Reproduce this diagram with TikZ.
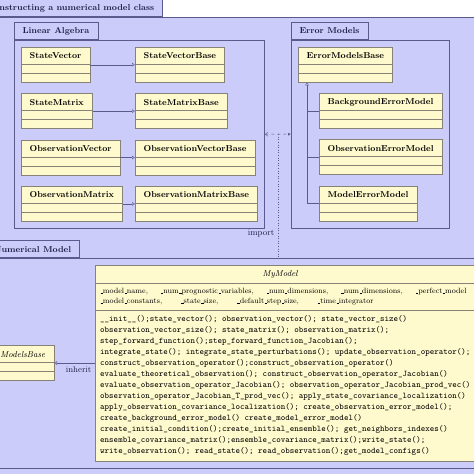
\documentclass[tikz,border=0pt]{standalone}
\usetikzlibrary{arrows.meta, positioning, shapes.multipart, fit}

\definecolor{pkgfill}{RGB}{204,204,250}
\definecolor{pkgline}{RGB}{90,90,140}
\definecolor{pkgtext}{RGB}{30,30,70}
\definecolor{classfill}{RGB}{255,250,205}
\definecolor{classline}{RGB}{135,130,120}

\newcommand{\umlsize}{\fontsize{8.6}{10.5}\selectfont}
% short roman underscore
\newcommand{\usc}{\leavevmode\kern.06em\vbox{\hrule width.3em}}

\tikzset{
  umlclass/.style={draw=classline, fill=classfill, font=\umlsize\bfseries,
    inner xsep=8.5pt, inner ysep=0pt, text height=11.5pt, text depth=23.5pt,
    path picture={
      \draw[classline] ([yshift=-17pt]path picture bounding box.north west)
        -- ([yshift=-17pt]path picture bounding box.north east);
      \draw[classline] ([yshift=-26pt]path picture bounding box.north west)
        -- ([yshift=-26pt]path picture bounding box.north east);}},
  umlsplit/.style={rectangle split, rectangle split parts=3,
    draw=classline, fill=classfill, font=\umlsize,
    inner xsep=5pt, inner ysep=3.5pt,
    rectangle split part align={left}, execute at begin node=\strut},
  pkgtab/.style={draw=pkgline, line width=0.6pt, fill=pkgfill,
    font=\umlsize\bfseries, text=pkgtext, minimum height=17pt,
    inner xsep=8.5pt},
  pkgframe/.style={draw=pkgline, line width=0.6pt, inner sep=7pt},
  inh/.style={draw=pkgline, -{Triangle[open, length=3pt, width=3.5pt]}},
}

\begin{document}
\begin{tikzpicture}[x=1pt, y=-1pt, font=\umlsize]
  \useasboundingbox (0,0) rectangle (474,474);
  \clip (0,0) rectangle (474,474);
  \fill[white] (0,0) rectangle (474,474);

  % outer package
  \draw[pkgframe, fill=pkgfill] (-20,17) rectangle (500,500);
  \node[pkgtab, anchor=south east] (outer-tab) at (163,17)
    {Constructing a numerical model class};

  % linear algebra
  \node[umlclass, anchor=north west] (sv) at (21,47) {StateVector};
  \node[umlclass, anchor=north west] (svb) at (135,47) {StateVectorBase};
  \node[umlclass, below=11pt of sv.south west, anchor=north west] (sm)
    {StateMatrix};
  \node[umlclass, below=11pt of svb.south west, anchor=north west] (smb)
    {StateMatrixBase};
  \node[umlclass, below=11pt of sm.south west, anchor=north west] (ov)
    {ObservationVector};
  \node[umlclass, below=11pt of smb.south west, anchor=north west] (ovb)
    {ObservationVectorBase};
  \node[umlclass, below=11pt of ov.south west, anchor=north west] (om)
    {ObservationMatrix};
  \node[umlclass, below=11pt of ovb.south west, anchor=north west] (omb)
    {ObservationMatrixBase};
  \draw[inh] (sv) -- (svb);
  \draw[inh] (sm) -- (smb);
  \draw[inh] (ov) -- (ovb);
  \draw[inh] (om) -- (omb);
  \node[pkgframe, fit=(sv)(svb)(om)(omb)] (la) {};
  \node[pkgtab, anchor=south west] (la-tab) at (la.north west)
    {Linear Algebra};

  % error models
  \node[umlclass, anchor=north west] (emb) at (298,47) {ErrorModelsBase};
  \node[umlclass, anchor=north west] (bem) at (319,93)
    {BackgroundErrorModel};
  \node[umlclass, below=11pt of bem.south west, anchor=north west] (oem)
    {ObservationErrorModel};
  \node[umlclass, below=11pt of oem.south west, anchor=north west] (mem)
    {ModelErrorModel};
  \coordinate[right=9pt of emb.south west] (trunk);
  \draw[inh] (mem.west) -| (trunk);
  \draw[pkgline] (bem.west) -- (bem.west -| trunk);
  \draw[pkgline] (oem.west) -- (oem.west -| trunk);
  \node[pkgframe, fit=(emb)(bem)(oem)(mem)] (em) {};
  \node[pkgtab, anchor=south west] (em-tab) at (em.north west)
    {Error Models};

  % numerical model
  \node[pkgframe, minimum width=520pt, minimum height=210pt,
        anchor=north west] (nm) at (-20,258) {};
  \node[pkgtab, anchor=south east] (nm-tab) at (80,258) {Numerical Model};

  \draw[pkgline, dashed, {Straight Barb[length=2.5pt, width=4pt]}-{Latex[length=2.5pt, width=3pt]}]
    (la) -- coordinate (imp) (em);
  \draw[pkgline, dotted, line width=0.6pt] (imp)
    -- node[left, pos=0.8, text=pkgtext] {import} (imp |- nm.north);

  \node[umlsplit, anchor=north west] (mymodel) at (95,265)
    {\makebox[360pt]{\itshape MyModel}
     \nodepart{two}\parbox{400pt}{\fontsize{7.6}{10}\selectfont
       \raggedright\strut
       \usc model\usc name,\hspace{10pt} \usc num\usc prognostic\usc variables,\hspace{10pt}
       \usc num\usc dimensions,\hspace{10pt} \usc num\usc dimensions,\hspace{10pt}
       \usc perfect\usc model\\
       \usc model\usc constants,\hspace{16pt} \usc state\usc size,\hspace{16pt}
       \usc default\usc step\usc size,\hspace{16pt} \usc time\usc integrator\strut}
     \nodepart{three}\parbox{400pt}{\ttfamily\fontsize{8.6}{11}\selectfont
       \raggedright\strut
       \_\_init\_\_();state\_vector(); observation\_vector(); state\_vector\_size()\\
       observation\_vector\_size(); state\_matrix(); observation\_matrix();\\
       step\_forward\_function();step\_forward\_function\_Jacobian();\\
       integrate\_state(); integrate\_state\_perturbations(); update\_observation\_operator();\\
       construct\_observation\_operator();construct\_observation\_operator()\\
       evaluate\_theoretical\_observation(); construct\_observation\_operator\_Jacobian()\\
       evaluate\_observation\_operator\_Jacobian(); observation\_operator\_Jacobian\_prod\_vec()\\
       observation\_operator\_Jacobian\_T\_prod\_vec(); apply\_state\_covariance\_localization()\\
       apply\_observation\_covariance\_localization(); create\_observation\_error\_model();\\
       create\_background\_error\_model() create\_model\_error\_model()\\
       create\_initial\_condition();create\_initial\_ensemble(); get\_neighbors\_indexes()\\
       ensemble\_covariance\_matrix();ensemble\_covariance\_matrix();write\_state();\\
       write\_observation(); read\_state(); read\_observation();get\_model\_configs()\strut}};
  \node[umlclass, font=\umlsize\itshape, anchor=east] (base) at (54,363)
    {ModelsBase};
  \draw[inh] (base.east -| mymodel.west)
    -- node[below, pos=0.4, text=pkgtext] {inherit} (base);
\end{tikzpicture}
\end{document}
